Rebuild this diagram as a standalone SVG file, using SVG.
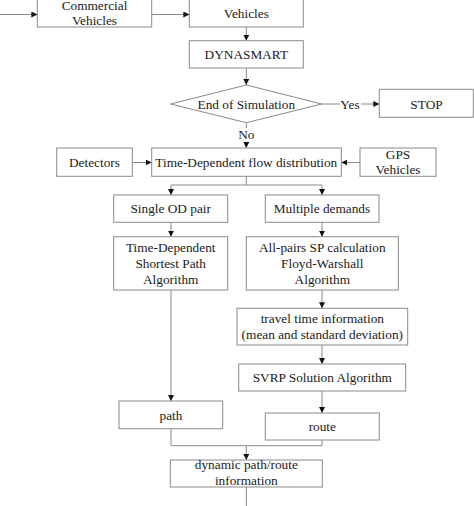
<svg xmlns="http://www.w3.org/2000/svg" width="474" height="506" viewBox="0 0 474 506" font-family="'Liberation Serif', 'DejaVu Serif', serif" font-size="13.3">
<defs>
<style>
.box{fill:#fff;stroke:#8a8a8a;stroke-width:1}
.ln{fill:none;stroke:#8a8a8a;stroke-width:1}
.arr{fill:none;stroke:#8a8a8a;stroke-width:1;marker-end:url(#ah)}
.t{fill:#1a1a1a;text-anchor:middle}
</style>
<marker id="ah" viewBox="0 0 10 10" refX="10" refY="5" markerWidth="6" markerHeight="6" markerUnits="userSpaceOnUse" orient="auto">
<path d="M0,0 L10,5 L0,10 Z" fill="#111"/>
</marker>
</defs>
<rect width="474" height="506" fill="#fff"/>
<g id="connectors">
<line class="arr" x1="0" y1="14.5" x2="37.3" y2="14.5"/>
<line class="arr" x1="151.7" y1="14.5" x2="189.3" y2="14.5"/>
<line class="arr" x1="246.3" y1="27" x2="246.3" y2="40.7"/>
<line class="arr" x1="246.3" y1="68" x2="246.3" y2="85"/>
<line class="ln" x1="321.7" y1="104" x2="340" y2="104"/>
<line class="arr" x1="361" y1="104" x2="379.3" y2="104"/>
<text class="t" x="350" y="108.5">Yes</text>
<line class="ln" x1="246.3" y1="122.7" x2="246.3" y2="128"/>
<text class="t" x="246.3" y="138.5">No</text>
<line class="arr" x1="246.3" y1="143" x2="246.3" y2="148"/>
<line class="arr" x1="132.3" y1="162.5" x2="151.7" y2="162.5"/>
<line class="arr" x1="360" y1="162.5" x2="341.3" y2="162.5"/>
<polyline class="ln" points="246.3,176.3 246.3,185 171,185"/>
<line class="arr" x1="171" y1="185" x2="171" y2="195"/>
<line class="ln" x1="246.3" y1="185" x2="322" y2="185"/>
<line class="arr" x1="322" y1="185" x2="322" y2="195"/>
<line class="arr" x1="171" y1="222.3" x2="171" y2="236.7"/>
<line class="arr" x1="322" y1="222.3" x2="322" y2="236.7"/>
<line class="arr" x1="171" y1="290" x2="171" y2="401"/>
<line class="arr" x1="322" y1="290" x2="322" y2="308.3"/>
<line class="arr" x1="322" y1="345" x2="322" y2="364"/>
<line class="arr" x1="322" y1="391" x2="322" y2="413"/>
<polyline class="ln" points="171,428.7 171,445.7 322,445.7 322,440"/>
<line class="arr" x1="246.3" y1="445.7" x2="246.3" y2="460"/>
<line class="ln" x1="246.3" y1="487" x2="246.3" y2="506"/>
</g>
<g id="n-commercial">
<rect class="box" x="37.3" y="-5" width="114.4" height="32"/>
<text class="t" x="94.5" y="10">Commercial</text>
<text class="t" x="94.5" y="25">Vehicles</text>
</g>
<g id="n-vehicles">
<rect class="box" x="189.3" y="-5" width="114" height="32"/>
<text class="t" x="246.3" y="18">Vehicles</text>
</g>
<g id="n-dynasmart">
<rect class="box" x="189.3" y="40.7" width="114" height="27.3"/>
<text class="t" x="246.3" y="59">DYNASMART</text>
</g>
<g id="n-end">
<polygon class="box" points="246.3,85 321.7,104 246.3,122.7 170.7,104"/>
<text class="t" x="246.3" y="108.5">End of Simulation</text>
</g>
<g id="n-stop">
<rect class="box" x="379.3" y="89.3" width="94" height="28"/>
<text class="t" x="426.5" y="108.5">STOP</text>
</g>
<g id="n-detectors">
<rect class="box" x="56.7" y="148" width="75.6" height="28.3"/>
<text class="t" x="94.5" y="166.5">Detectors</text>
</g>
<g id="n-tdflow">
<rect class="box" x="151.7" y="148" width="189.6" height="28.3"/>
<text class="t" x="246.3" y="166.5">Time-Dependent flow distribution</text>
</g>
<g id="n-gps">
<rect class="box" x="360" y="148" width="76" height="28.3"/>
<text class="t" x="398" y="158.5">GPS</text>
<text class="t" x="398" y="173.5">Vehicles</text>
</g>
<g id="n-single">
<rect class="box" x="113.7" y="195" width="114" height="27.3"/>
<text class="t" x="170.7" y="213">Single OD pair</text>
</g>
<g id="n-multiple">
<rect class="box" x="265.3" y="195" width="113.7" height="27.3"/>
<text class="t" x="322" y="213">Multiple demands</text>
</g>
<g id="n-tdsp">
<rect class="box" x="113.7" y="236.7" width="114" height="53.3"/>
<text class="t" x="170.7" y="251.5">Time-Dependent</text>
<text class="t" x="170.7" y="267.5">Shortest Path</text>
<text class="t" x="170.7" y="283.5">Algorithm</text>
</g>
<g id="n-allpairs">
<rect class="box" x="246.3" y="236.7" width="152" height="53.3"/>
<text class="t" x="322.3" y="251.5">All-pairs SP calculation</text>
<text class="t" x="322.3" y="267.5">Floyd-Warshall</text>
<text class="t" x="322.3" y="283.5">Algorithm</text>
</g>
<g id="n-travel">
<rect class="box" x="237" y="308.3" width="170.7" height="36.7"/>
<text class="t" x="322.3" y="322.5">travel time information</text>
<text class="t" x="322.3" y="338.5">(mean and standard deviation)</text>
</g>
<g id="n-svrp">
<rect class="box" x="238.7" y="364" width="167" height="27"/>
<text class="t" x="322.3" y="382">SVRP Solution Algorithm</text>
</g>
<g id="n-path">
<rect class="box" x="119" y="401" width="103.7" height="27.7"/>
<text class="t" x="171" y="419.5">path</text>
</g>
<g id="n-route">
<rect class="box" x="265.3" y="413" width="114" height="27"/>
<text class="t" x="322.3" y="430.5">route</text>
</g>
<g id="n-dynamic">
<rect class="box" x="170.3" y="460" width="152" height="27"/>
<text class="t" x="246.3" y="468.5">dynamic path/route</text>
<text class="t" x="246.3" y="484.5">information</text>
</g>
</svg>
